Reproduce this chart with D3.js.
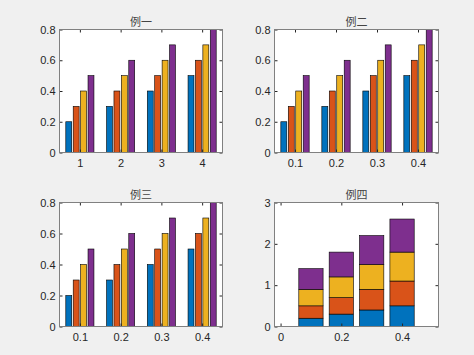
<!DOCTYPE html>
<html><head><meta charset="utf-8">
<script src="https://cdn.jsdelivr.net/npm/d3@7/dist/d3.min.js"></script>
<style>
html,body{margin:0;padding:0;background:#f0f0f0;}
svg{display:block;}
.tk text{font-family:"Liberation Sans",Arial,Helvetica,sans-serif;font-size:11px;fill:#262626;}
.ttl{font-family:"Noto Sans CJK SC",sans-serif;font-size:11px;fill:#444;}
</style></head>
<body>
<svg id="c" width="474" height="355"></svg>
<script>
// ---- data ----
const groupX1 = [1, 2, 3, 4];
const groupX2 = [0.1, 0.2, 0.3, 0.4];
const seriesBlue   = [0.2, 0.3, 0.4, 0.5];
const seriesOrange = [0.3, 0.4, 0.5, 0.6];
const seriesYellow = [0.4, 0.5, 0.6, 0.7];
const seriesPurple = [0.5, 0.6, 0.7, 0.8];
const groupTickLabels2 = ["0.1", "0.2", "0.3", "0.4"];
const yTicksGrouped = [0, 0.2, 0.4, 0.6, 0.8];
const yTicksStacked = [0, 1, 2, 3];
const xTicksStacked = [0, 0.2, 0.4];
const titles = ["例一", "例二", "例三", "例四"];
const colors = ["#0072BD", "#D95319", "#EDB120", "#7E2F8E"];

const allSeries = [seriesBlue, seriesOrange, seriesYellow, seriesPurple];
const svg = d3.select("#c");

function frame(g, w, h, x, y, xticks, yticks, xfmt, yfmt, title) {
  // inward ticks on all sides
  g.append("g").attr("class","tk").attr("transform",`translate(0,${h})`)
    .call(d3.axisBottom(x).tickValues(xticks).tickFormat(xfmt).tickSizeInner(-3).tickSizeOuter(0).tickPadding(6.5))
    .call(a=>a.select(".domain").remove()).call(a=>a.selectAll("line").attr("stroke","#262626"));
  g.append("g").attr("class","tk")
    .call(d3.axisTop(x).tickValues(xticks).tickFormat("").tickSizeInner(-3).tickSizeOuter(0))
    .call(a=>a.select(".domain").remove()).call(a=>a.selectAll("line").attr("stroke","#262626"));
  g.append("g").attr("class","tk")
    .call(d3.axisLeft(y).tickValues(yticks).tickFormat(yfmt).tickSizeInner(-3).tickSizeOuter(0).tickPadding(4))
    .call(a=>a.select(".domain").remove()).call(a=>a.selectAll("line").attr("stroke","#262626"));
  g.append("g").attr("class","tk").attr("transform",`translate(${w},0)`)
    .call(d3.axisRight(y).tickValues(yticks).tickFormat("").tickSizeInner(-3).tickSizeOuter(0))
    .call(a=>a.select(".domain").remove()).call(a=>a.selectAll("line").attr("stroke","#262626"));
  g.append("rect").attr("x",0).attr("y",0).attr("width",w).attr("height",h)
    .attr("fill","none").attr("stroke","#808080").attr("stroke-width",1);
  g.append("text").attr("class","ttl").attr("x",w/2).attr("y",-4)
    .attr("text-anchor","middle").text(title);
}

function grouped(box, xvals, xdom, xlabels, title) {
  const [x0,y0,x1,y1] = box, w = x1-x0, h = y1-y0;
  const g = svg.append("g").attr("transform",`translate(${x0},${y0})`);
  g.append("rect").attr("width",w).attr("height",h).attr("fill","#fff");
  const x = d3.scaleLinear().domain(xdom).range([0,w]);
  const y = d3.scaleLinear().domain([0,0.8]).range([h,0]);
  const spacing = xvals[1]-xvals[0];
  const n = allSeries.length;
  const gw = Math.min(0.8, n/(n+1.5)) * spacing;
  const bw = 0.8 * gw / n;
  allSeries.forEach((s,si)=>{
    const off = (si - (n-1)/2) * gw / n;
    g.selectAll(null).data(s).enter().append("rect")
      .attr("x",(d,i)=>x(xvals[i]+off-bw/2))
      .attr("width",(d,i)=>x(xvals[i]+off+bw/2)-x(xvals[i]+off-bw/2))
      .attr("y",d=>y(d)).attr("height",d=>y(0)-y(d))
      .attr("fill",colors[si]).attr("stroke","#000").attr("stroke-width",0.6);
  });
  const fmt = xlabels ? ((d,i)=>xlabels[i]) : (d=>d);
  frame(g,w,h,x,y,xvals,yTicksGrouped,fmt,d=>d===0?"0":d3.format(".1f")(d),title);
}

function stacked(box, xvals, title) {
  const [x0,y0,x1,y1] = box, w = x1-x0, h = y1-y0;
  const g = svg.append("g").attr("transform",`translate(${x0},${y0})`);
  g.append("rect").attr("width",w).attr("height",h).attr("fill","#fff");
  const x = d3.scaleLinear().domain([-0.02,0.52]).range([0,w]);
  const y = d3.scaleLinear().domain([0,3]).range([h,0]);
  const bw = 0.8 * (xvals[1]-xvals[0]);
  const base = xvals.map(()=>0);
  allSeries.forEach((s,si)=>{
    const segs = s.map((d,i)=>{const b=base[i]; base[i]+=d; return {i, b, t:base[i]};});
    g.selectAll(null).data(segs).enter().append("rect")
      .attr("x",d=>x(xvals[d.i]-bw/2))
      .attr("width",d=>x(xvals[d.i]+bw/2)-x(xvals[d.i]-bw/2))
      .attr("y",d=>y(d.t)).attr("height",d=>y(d.b)-y(d.t))
      .attr("fill",colors[si]).attr("stroke","#000").attr("stroke-width",0.6);
  });
  frame(g,w,h,x,y,xTicksStacked,yTicksStacked,d=>d===0?"0":d3.format(".1f")(d),d=>d,title);
}

grouped([59.5,29.5,222.5,152.5], groupX1, [0.5,4.5], null, titles[0]);
grouped([274.5,29.5,438.5,152.5], groupX2, [0.05,0.45], groupTickLabels2, titles[1]);
grouped([59.5,202.5,222.5,326.5], groupX2, [0.05,0.45], groupTickLabels2, titles[2]);
stacked([274.5,202.5,438.5,326.5], groupX2, titles[3]);
</script>
</body></html>
